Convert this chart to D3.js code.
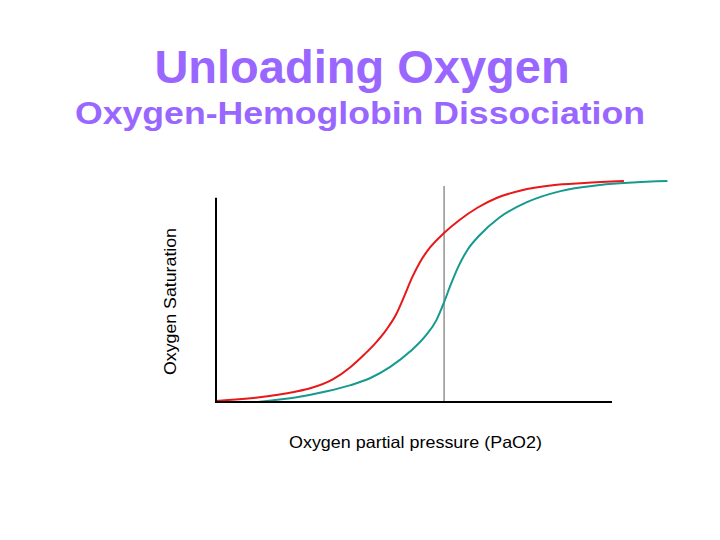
<!DOCTYPE html>
<html>
<head>
<meta charset="utf-8">
<script src="https://cdn.jsdelivr.net/npm/d3@7"></script>
<style>
  body { margin: 0; background: #fff; }
  text { font-family: Arial, "Liberation Sans", sans-serif; }
</style>
</head>
<body>
<script>
// saturation curves (pressure, saturation %)
var redPressure = [0, 10, 20, 24, 29.5, 34, 37.5, 40.5, 43, 45.5, 47.5, 49.5, 51.5, 54, 57.5, 61.5, 66, 71, 77, 85, 93, 103];
var redSaturation = [0.5, 1.9, 4.6, 6.3, 10.2, 15.8, 21.5, 27, 32.5, 39.5, 47.5, 56, 63, 69.5, 76, 82, 87.5, 92, 95.3, 97.6, 98.6, 99.5];

var tealPressure = [10.5, 20, 28, 34, 39, 44, 49, 53, 55.7, 57.5, 59.2, 61.2, 63.5, 66.5, 71.5, 78.5, 87, 97, 114];
var tealSaturation = [0, 2, 4.8, 7.6, 10.8, 15.8, 22.7, 30, 37, 44.5, 52.5, 61, 68.5, 75, 83, 90, 95, 97.7, 99.5];

var markerPressure = 57.6;   // vertical reference line
var markerTop = 97.3;
var axisMaxPressure = 100;
var axisMaxSaturation = 92;

var titleText = "Unloading Oxygen";
var subtitleText = "Oxygen-Hemoglobin Dissociation";
var xLabel = "Oxygen partial pressure (PaO2)";
var yLabel = "Oxygen Saturation";

var width = 720,
    height = 540;

var svg = d3.select("body").append("svg")
    .attr("width", width)
    .attr("height", height);

var x = d3.scaleLinear().domain([0, 100]).range([216, 612]);
var y = d3.scaleLinear().domain([0, 100]).range([402, 180]);

var purple = "#9966ff";

svg.append("text")
    .attr("x", 362)
    .attr("y", 83)
    .attr("text-anchor", "middle")
    .style("font-size", "47px")
    .style("font-weight", "bold")
    .style("fill", purple)
    .text(titleText);

// the slide font runs wider than Liberation Sans, so stretch to its width
svg.append("text")
    .attr("x", 360)
    .attr("y", 124)
    .attr("text-anchor", "middle")
    .attr("textLength", 570)
    .attr("lengthAdjust", "spacingAndGlyphs")
    .style("font-size", "31px")
    .style("font-weight", "bold")
    .style("fill", purple)
    .text(subtitleText);

// vertical reference line
svg.append("line")
    .attr("x1", x(markerPressure))
    .attr("x2", x(markerPressure))
    .attr("y1", y(0))
    .attr("y2", y(markerTop))
    .style("stroke", "#999")
    .style("stroke-width", 1.6);

var line = d3.line()
    .x(function(d) { return x(d[0]); })
    .y(function(d) { return y(d[1]); })
    .curve(d3.curveMonotoneX);

var redData = redPressure.map(function(p, i) { return [p, redSaturation[i]]; });
var tealData = tealPressure.map(function(p, i) { return [p, tealSaturation[i]]; });

svg.append("path")
    .datum(tealData)
    .attr("d", line)
    .style("fill", "none")
    .style("stroke", "#16998f")
    .style("stroke-width", 2);

svg.append("path")
    .datum(redData)
    .attr("d", line)
    .style("fill", "none")
    .style("stroke", "#e81818")
    .style("stroke-width", 2);

// axes: plain lines, no ticks
svg.append("line")
    .attr("x1", x(0))
    .attr("x2", x(0))
    .attr("y1", y(0) + 1)
    .attr("y2", y(axisMaxSaturation))
    .style("stroke", "#000")
    .style("stroke-width", 2);

svg.append("line")
    .attr("x1", x(0) - 1)
    .attr("x2", x(axisMaxPressure))
    .attr("y1", y(0))
    .attr("y2", y(0))
    .style("stroke", "#000")
    .style("stroke-width", 2);

svg.append("text")
    .attr("x", 415.5)
    .attr("y", 448)
    .attr("text-anchor", "middle")
    .attr("textLength", 253)
    .attr("lengthAdjust", "spacingAndGlyphs")
    .style("font-size", "16.5px")
    .style("fill", "#000")
    .text(xLabel);

svg.append("text")
    .attr("transform", "translate(176,301.5) rotate(-90)")
    .attr("text-anchor", "middle")
    .attr("textLength", 147)
    .attr("lengthAdjust", "spacingAndGlyphs")
    .style("font-size", "16.5px")
    .style("fill", "#000")
    .text(yLabel);
</script>
</body>
</html>
